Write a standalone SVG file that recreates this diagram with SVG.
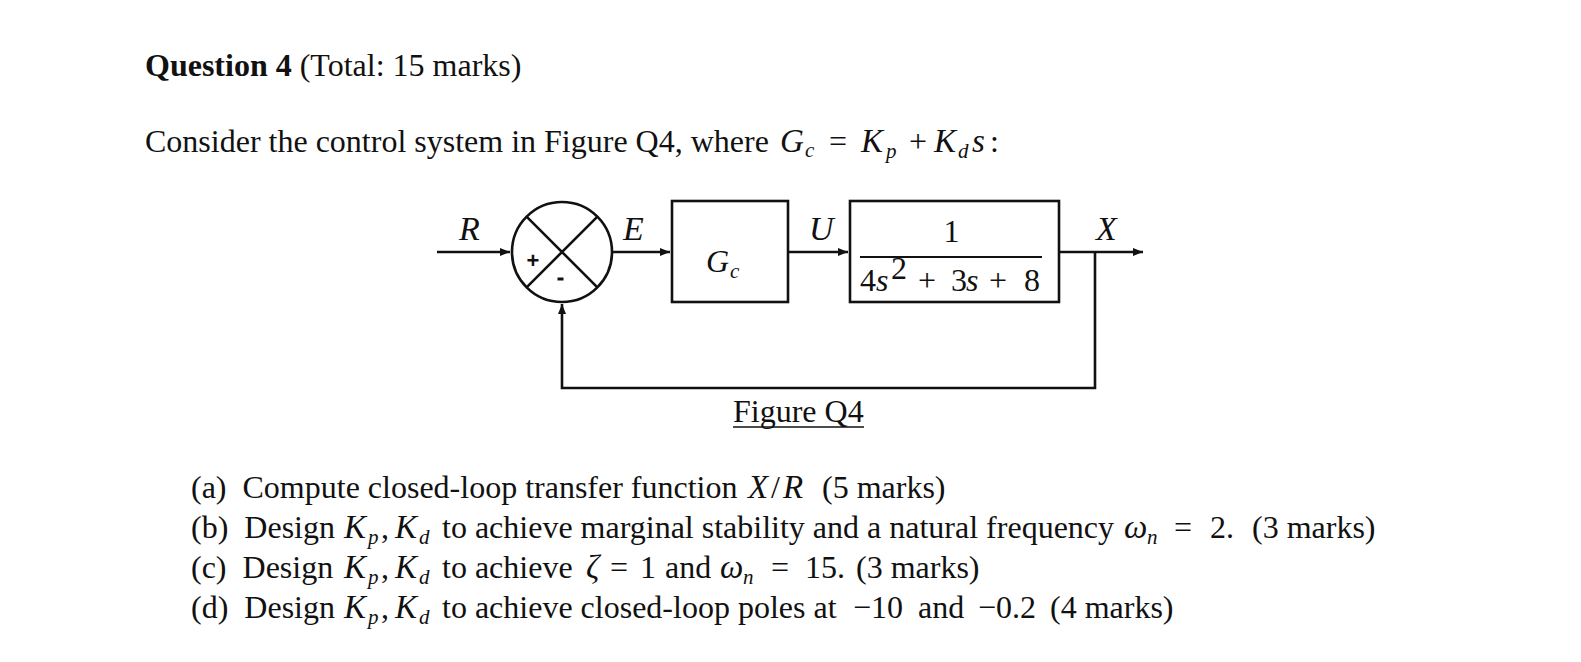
<svg xmlns="http://www.w3.org/2000/svg" width="1581" height="662" viewBox="0 0 1581 662">
<style>
.t{font-family:"Liberation Serif",serif;font-size:32px;fill:#111}
.i{font-style:italic}
.m{font-style:italic;font-size:33px}
.sub{font-style:italic;font-size:21px}
.lab{font-style:italic;font-size:34px}
.ln{fill:none;stroke:#111;stroke-width:2.6}
.sign{font-family:"Liberation Sans",sans-serif;font-weight:bold;font-size:22px;fill:#111}
</style>
<defs>
<marker id="ah" markerUnits="userSpaceOnUse" markerWidth="11" markerHeight="8" refX="10" refY="4" orient="auto">
<path d="M0,0 L10,4 L0,8 Z" fill="#111"/>
</marker>
</defs>
<rect width="1581" height="662" fill="#fff"/>

<g id="title">
<text class="t" x="145" y="76" font-size="32.5"><tspan font-weight="bold">Question 4</tspan> (Total: 15 marks)</text>
</g>
<g id="intro">
<text class="t" x="145" y="152">Consider the control system in Figure Q4, where</text>
<text class="t m" x="780" y="152">G</text>
<text class="t sub" x="805" y="157">c</text>
<text class="t" x="829" y="152">=</text>
<text class="t m" x="861" y="152">K</text>
<text class="t sub" x="886" y="158">p</text>
<text class="t" x="909" y="152">+</text>
<text class="t m" x="934" y="152">K</text>
<text class="t sub" x="958" y="158">d</text>
<text class="t m" x="972" y="152">s</text>
<text class="t" x="990" y="152">:</text>
</g>

<g id="connectors">
<path class="ln" d="M437,252 H510" marker-end="url(#ah)"/>
<path class="ln" d="M612,252 H670" marker-end="url(#ah)"/>
<path class="ln" d="M788,252 H848" marker-end="url(#ah)"/>
<path class="ln" d="M1059,252 H1143" marker-end="url(#ah)"/>
<path class="ln" d="M1095,252 V388 H562 V304" marker-end="url(#ah)"/>
</g>

<g id="sum">
<circle class="ln" cx="562" cy="252" r="50"/>
<path class="ln" d="M526.6,216.6 L597.4,287.4 M597.4,216.6 L526.6,287.4"/>
<text class="sign" x="533" y="268" text-anchor="middle">+</text>
<rect x="557.5" y="277.5" width="6" height="3" fill="#111"/>
</g>

<g id="controller">
<rect class="ln" x="672" y="201" width="116" height="101"/>
<text class="t i" x="706" y="272" font-size="38">G</text>
<text class="t sub" x="730" y="278" font-size="24">c</text>
</g>

<g id="plant">
<rect class="ln" x="850" y="201" width="209" height="101"/>
<text class="t" x="951.5" y="242" font-size="30" text-anchor="middle">1</text>
<line x1="860" y1="257" x2="1042" y2="257" stroke="#111" stroke-width="2"/>
<text class="t" x="860" y="291" font-size="30">4</text>
<text class="t i" x="876" y="291" font-size="31">s</text>
<text class="t" x="891" y="279" font-size="20">2</text>
<text class="t" x="918" y="291" font-size="30">+</text>
<text class="t" x="951" y="291" font-size="30">3</text>
<text class="t i" x="966" y="291" font-size="31">s</text>
<text class="t" x="989" y="291" font-size="30">+</text>
<text class="t" x="1024" y="291" font-size="30">8</text>
</g>

<g id="labels">
<text class="t lab" x="459" y="240">R</text>
<text class="t lab" x="623" y="240">E</text>
<text class="t lab" x="809" y="240">U</text>
<text class="t lab" x="1096" y="240">X</text>
</g>

<g id="caption">
<text class="t" x="733" y="422">Figure Q4</text>
<line x1="733" y1="427" x2="864" y2="427" stroke="#111" stroke-width="1.6"/>
</g>

<g id="parts">
<g id="part-a">
<text class="t" x="191" y="498" xml:space="preserve">(a)  Compute closed-loop transfer function</text>
<text class="t m" x="748" y="498">X</text>
<text class="t" x="771" y="498">/</text>
<text class="t m" x="783" y="498">R</text>
<text class="t" x="822" y="498">(5 marks)</text>
</g>
<g id="part-b">
<text class="t" x="191" y="538" xml:space="preserve">(b)  Design</text>
<text class="t m" x="344" y="538">K</text><text class="t sub" x="368" y="544">p</text><text class="t" x="381" y="538">,</text>
<text class="t m" x="395" y="538">K</text><text class="t sub" x="419" y="544">d</text>
<text class="t" x="442" y="538">to achieve marginal stability and a natural frequency</text>
<text class="t m" x="1124" y="538">ω</text><text class="t sub" x="1147" y="544">n</text>
<text class="t" x="1174" y="538">=</text>
<text class="t" x="1210" y="538">2.</text>
<text class="t" x="1252" y="538">(3 marks)</text>
</g>
<g id="part-c">
<text class="t" x="191" y="578" xml:space="preserve">(c)  Design</text>
<text class="t m" x="344" y="578">K</text><text class="t sub" x="368" y="584">p</text><text class="t" x="381" y="578">,</text>
<text class="t m" x="395" y="578">K</text><text class="t sub" x="419" y="584">d</text>
<text class="t" x="442" y="578">to achieve</text>
<text class="t m" x="586" y="578">ζ</text>
<text class="t" x="610" y="578">=</text>
<text class="t" x="640" y="578">1</text>
<text class="t" x="665" y="578">and</text>
<text class="t m" x="720" y="578">ω</text><text class="t sub" x="743" y="584">n</text>
<text class="t" x="771" y="578">=</text>
<text class="t" x="805" y="578">15.</text>
<text class="t" x="856" y="578">(3 marks)</text>
</g>
<g id="part-d">
<text class="t" x="191" y="618" xml:space="preserve">(d)  Design</text>
<text class="t m" x="344" y="618">K</text><text class="t sub" x="368" y="624">p</text><text class="t" x="381" y="618">,</text>
<text class="t m" x="395" y="618">K</text><text class="t sub" x="419" y="624">d</text>
<text class="t" x="442" y="618">to achieve closed-loop poles at</text>
<text class="t" x="853" y="618">−10</text>
<text class="t" x="918" y="618">and</text>
<text class="t" x="978" y="618">−0.2</text>
<text class="t" x="1050" y="618">(4 marks)</text>
</g>
</g>
</svg>
